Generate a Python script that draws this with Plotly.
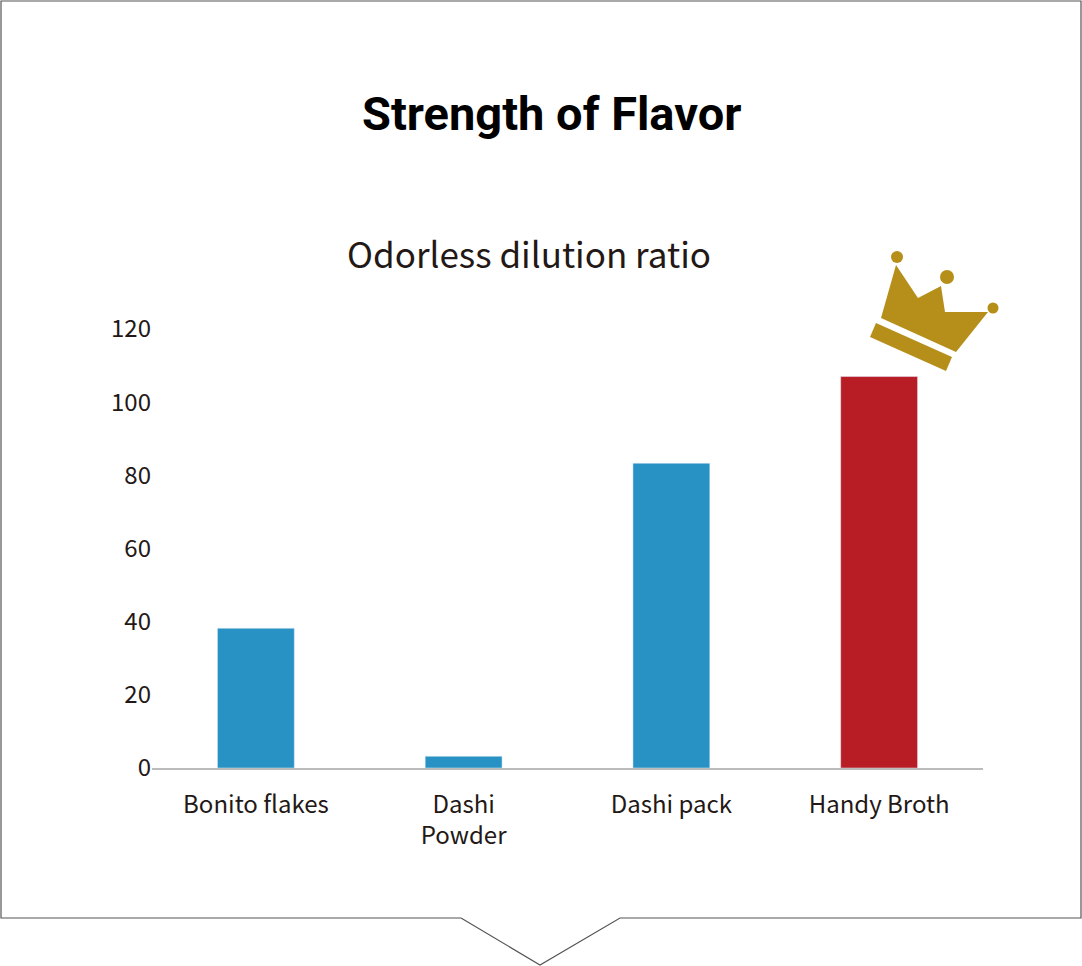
import plotly.graph_objects as go

categories = ["Bonito flakes", "Dashi<br>Powder", "Dashi pack", "Handy Broth"]
values = [38.2, 3.2, 83.3, 107]
colors = ["#2892c5", "#2892c5", "#2892c5", "#b81c25"]
yticks = [0, 20, 40, 60, 80, 100, 120]

W, H = 1082, 966
L, R, T, B = 152, 983, 329, 768

def px(x): return (x - L) / (R - L)
def py(y): return (B - y) / (B - T)
def path(pts):
    return "M " + " L ".join(f"{px(x):.5f},{py(y):.5f}" for x, y in pts) + " Z"

fig = go.Figure(go.Bar(x=categories, y=values, marker_color=colors, width=0.37))

shapes = [
    dict(type="path", xref="paper", yref="paper",
         path="M " + " L ".join(f"{px(x):.5f},{py(y):.5f}" for x, y in
              [(461, 918), (1, 918), (1, 1), (1081, 1), (1081, 918), (620, 918), (540, 965), (461, 918)]),
         line=dict(color="#555", width=1.2), fillcolor="rgba(0,0,0,0)"),
    dict(type="path", xref="paper", yref="paper",
         path=path([(881, 318), (896, 265), (918, 298), (941, 286), (945, 312), (988, 312), (956, 352)]),
         fillcolor="#b68f1a", line=dict(width=0)),
    dict(type="path", xref="paper", yref="paper",
         path=path([(876, 323), (952, 357), (946, 371), (870, 337)]),
         fillcolor="#b68f1a", line=dict(width=0)),
]
for cx, cy, r in [(897, 257, 6), (947, 277, 7), (993, 308, 5.5)]:
    shapes.append(dict(type="circle", xref="paper", yref="paper",
                       x0=px(cx - r), x1=px(cx + r), y0=py(cy + r), y1=py(cy - r),
                       fillcolor="#b68f1a", line=dict(width=0)))

fig.update_layout(
    width=W, height=H, margin=dict(l=L, r=W - R, t=T, b=H - B),
    paper_bgcolor="white", plot_bgcolor="white", showlegend=False,
    font=dict(family="Noto Sans CJK JP", color="#231815"),
    bargap=0.6,
    xaxis=dict(showline=True, linecolor="#bbbbbb", linewidth=1.5, ticks="",
               tickfont=dict(size=24), showgrid=False, range=[-0.5, 3.5],
               ticklabelstandoff=14),
    yaxis=dict(range=[0, 120], tickvals=yticks, showgrid=False, zeroline=False,
               tickfont=dict(size=24), ticks="", ticklen=0),
    shapes=shapes,
    annotations=[
        dict(text="<b>Strength of Flavor</b>", x=px(551), y=py(113), xref="paper", yref="paper",
             xanchor="center", yanchor="middle",
             showarrow=False, font=dict(family="Roboto", size=47, color="#000")),
        dict(text="Odorless dilution ratio", x=px(529), y=py(252), xref="paper", yref="paper",
             xanchor="center", yanchor="middle",
             showarrow=False, font=dict(size=35)),
    ],
)
fig.write_html("out.html", config={"displayModeBar": False},
               post_script="document.body.style.margin='0';")
